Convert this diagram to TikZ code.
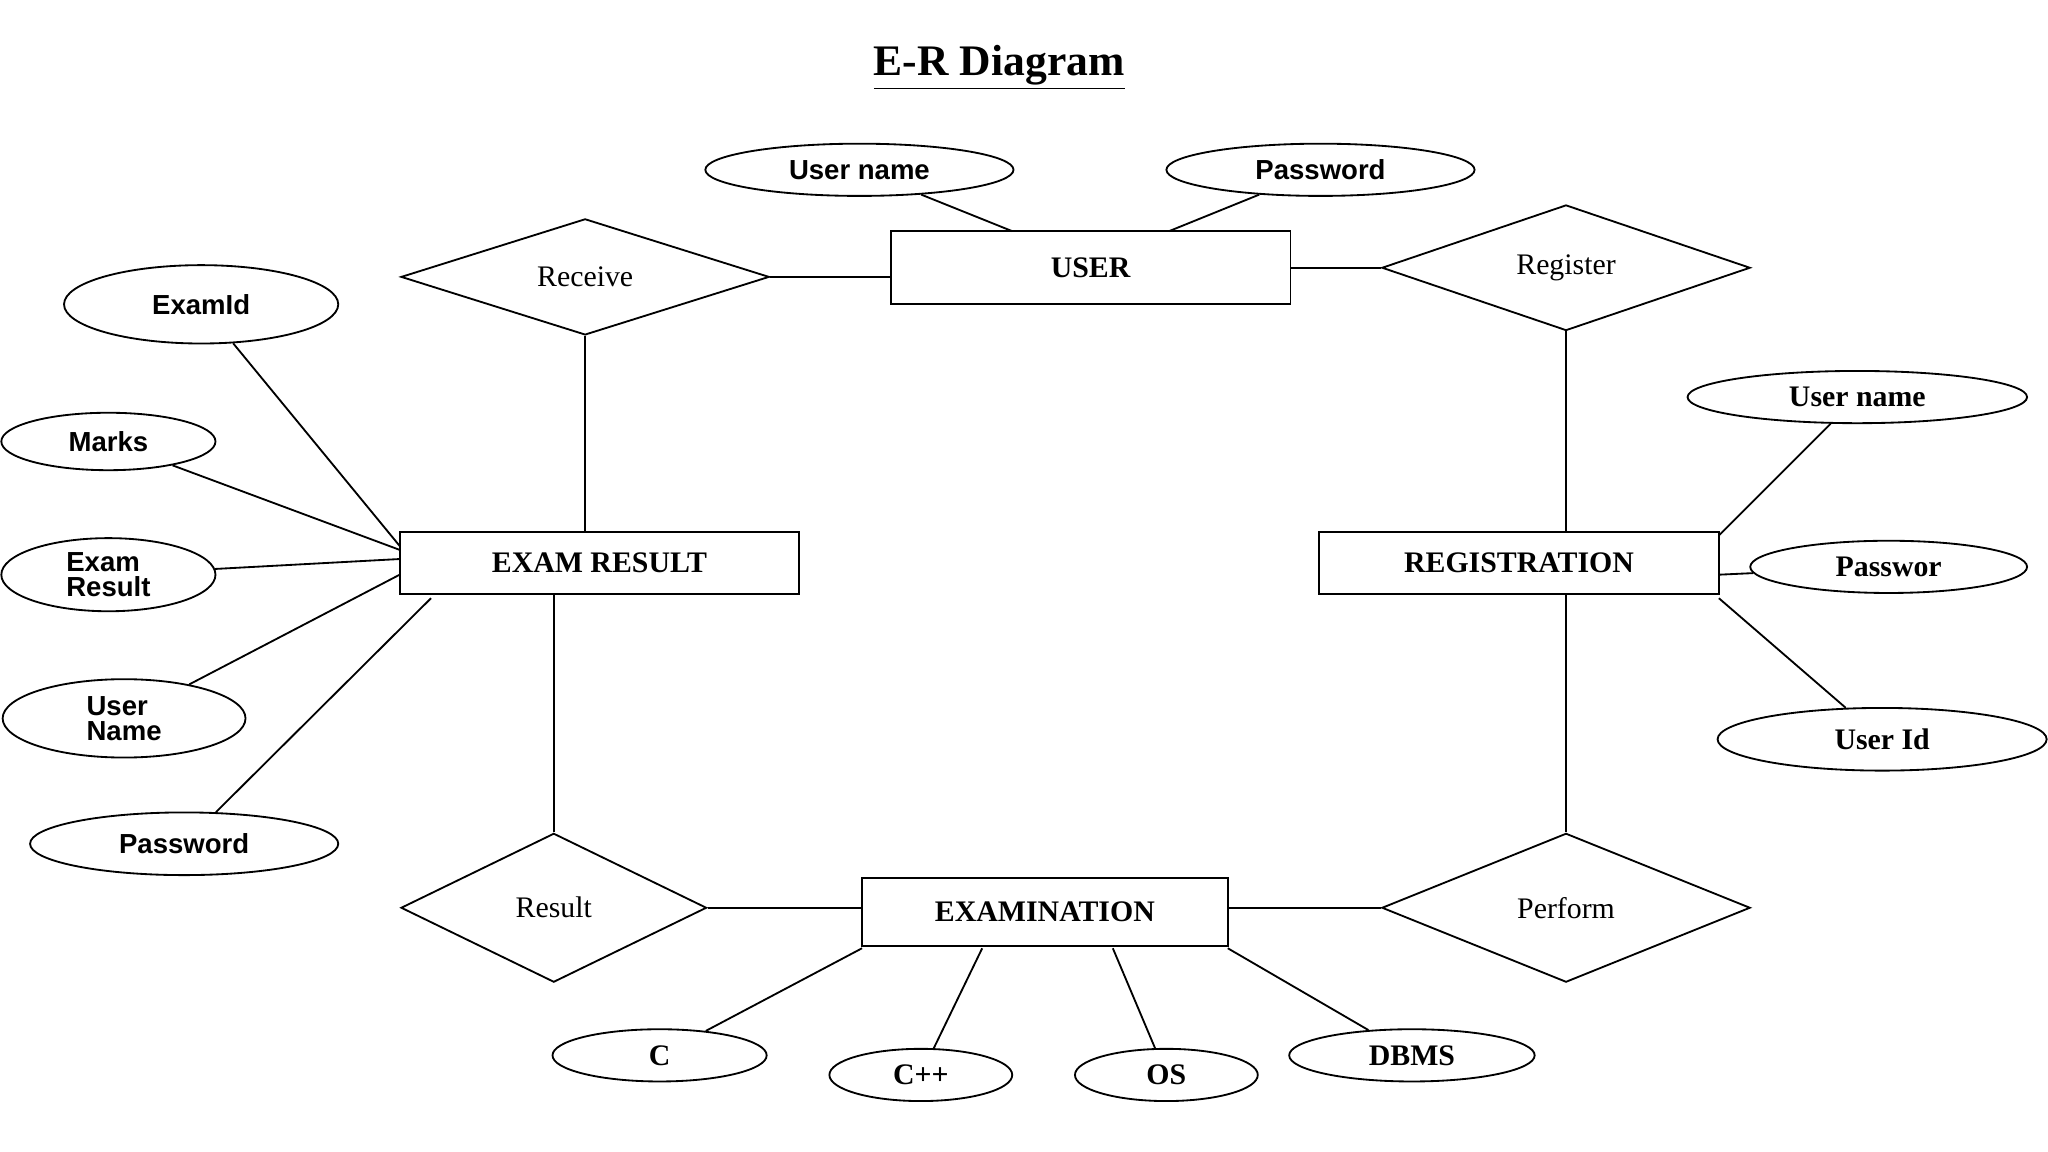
\documentclass[tikz,border=0pt]{standalone}
\usepackage{fontspec}
\setmainfont{Liberation Serif}
\setsansfont{Liberation Sans}
\usetikzlibrary{shapes.geometric}
\tikzset{
  ent/.style={draw,thick,rectangle,inner sep=0pt,font=\fontsize{13}{15}\selectfont\bfseries},
  rel/.style={draw,thick,diamond,inner sep=0pt,font=\fontsize{13}{15}\selectfont},
  attS/.style={draw,thick,ellipse,inner sep=0pt,align=center,font=\sffamily\bfseries\fontsize{12}{11}\selectfont},
  attR/.style={draw,thick,ellipse,inner sep=0pt,font=\fontsize{13}{15}\selectfont\bfseries},
  ln/.style={thick}
}
\begin{document}
\begin{tikzpicture}[x=0.02cm,y=-0.02cm]
\useasboundingbox (0,0) rectangle (1568,882);
\node (title) at (765,52) {\fontsize{19}{22}\selectfont\bfseries\underline{E-R Diagram}};
% entities
\node[ent,minimum width=6.12cm,minimum height=1.12cm] (user) at (835,205) {USER};
\node[ent,minimum width=6.12cm,minimum height=0.94cm] (reg) at (1163,431) {REGISTRATION};
\node[ent,minimum width=6.12cm,minimum height=0.94cm] (exr) at (459,431) {EXAM RESULT};
\node[ent,minimum width=5.6cm,minimum height=1.04cm] (exam) at (800,698) {EXAMINATION};
% relationships
\node[rel,minimum width=5.64cm,minimum height=1.4cm] (recv) at (448,212) {Receive};
\node[rel,minimum width=5.64cm,minimum height=1.68cm] (regi) at (1199,205) {Register};
\node[rel,minimum width=5.64cm,minimum height=2.28cm] (perf) at (1199,695) {Perform};
\node[rel,minimum width=4.68cm,minimum height=2.28cm] (res) at (424,695) {Result};
% USER attributes
\node[attS,minimum width=4.72cm,minimum height=0.8cm] (uun) at (658,130) {User name};
\node[attS,minimum width=4.72cm,minimum height=0.8cm] (upw) at (1011,130) {Password};
% REGISTRATION attributes
\node[attR,minimum width=5.2cm,minimum height=0.8cm] (run) at (1422,304) {User name};
\node[attR,minimum width=4.24cm,minimum height=0.8cm] (rpw) at (1446,434) {Passwor};
\node[attR,minimum width=5.04cm,minimum height=0.96cm] (rid) at (1441,566) {User Id};
% EXAM RESULT attributes
\node[attS,minimum width=4.2cm,minimum height=1.2cm] (eid) at (154,233) {ExamId};
\node[attS,minimum width=3.28cm,minimum height=0.88cm] (emk) at (83,338) {Marks};
\node[attS,minimum width=3.28cm,minimum height=1.12cm,align=left] (eer) at (83,440) {Exam\\Result};
\node[attS,minimum width=3.72cm,minimum height=1.2cm,align=left] (eun) at (95,550) {User\\Name};
\node[attS,minimum width=4.72cm,minimum height=0.96cm] (epw) at (141,646) {Password};
% EXAMINATION attributes
\node[attR,minimum width=3.28cm,minimum height=0.8cm] (ac) at (505,808) {C};
\node[attR,minimum width=2.8cm,minimum height=0.8cm] (acpp) at (705,823) {C++};
\node[attR,minimum width=2.8cm,minimum height=0.8cm] (aos) at (893,823) {OS};
\node[attR,minimum width=3.76cm,minimum height=0.8cm] (adb) at (1081,808) {DBMS};
% anchor points on entities
\coordinate (u1) at (775,177); \coordinate (u2) at (895,177);
\coordinate (r1) at (1316,410); \coordinate (r2) at (1316,440); \coordinate (r3) at (1316,458);
\coordinate (e1) at (306,418); \coordinate (e2) at (306,421); \coordinate (e3) at (306,428);
\coordinate (e4) at (306,440); \coordinate (e5) at (330,458);
\coordinate (x1) at (660,726); \coordinate (x2) at (752,726); \coordinate (x3) at (852,726); \coordinate (x4) at (940,726);
% relationship lines
\draw[ln] (recv.east) -- (user.west |- recv.east);
\draw[ln] (user.east |- regi.west) -- (regi.west);
\draw[ln] (regi.south) -- (reg.north -| regi.south);
\draw[ln] (reg.south -| perf.north) -- (perf.north);
\draw[ln] (perf.west) -- (exam.east |- perf.west);
\draw[ln] (res.east) -- (exam.west |- res.east);
\draw[ln] (res.north) -- (exr.south -| res.north);
\draw[ln] (exr.north -| recv.south) -- (recv.south);
% attribute lines
\draw[ln] (uun) -- (u1); \draw[ln] (upw) -- (u2);
\draw[ln] (run) -- (r1); \draw[ln] (rpw) -- (r2); \draw[ln] (rid) -- (r3);
\draw[ln] (eid) -- (e1); \draw[ln] (emk) -- (e2); \draw[ln] (eer) -- (e3);
\draw[ln] (eun) -- (e4); \draw[ln] (epw) -- (e5);
\draw[ln] (ac) -- (x1); \draw[ln] (acpp) -- (x2); \draw[ln] (aos) -- (x3); \draw[ln] (adb) -- (x4);
\end{tikzpicture}
\end{document}
